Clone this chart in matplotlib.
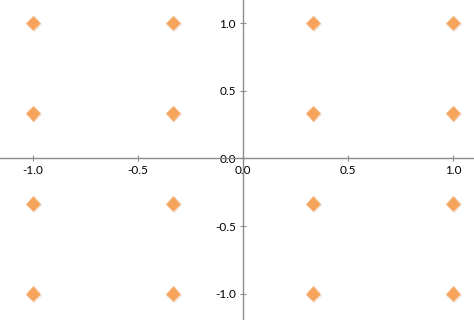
import matplotlib
matplotlib.use("Agg")
import matplotlib.pyplot as plt
import matplotlib.patheffects as pe

# grid of points
x_vals = [-1.0, -0.333, 0.333, 1.0]
y_vals = [1.0, 0.333, -0.333, -1.0]
xs = [x for y in y_vals for x in x_vals]
ys = [y for y in y_vals for x in x_vals]

tick_vals = [-1.0, -0.5, 0.0, 0.5, 1.0]
tick_labels = ["-1.0", "-0.5", "0.0", "0.5", "1.0"]

plt.rcParams["font.family"] = ["Lato", "DejaVu Sans"]

fig = plt.figure(figsize=(4.74, 3.2), dpi=100)
ax = fig.add_axes([0, 0, 1, 1])

ax.plot(xs, ys, linestyle="none", marker="D", markersize=7.5,
        markerfacecolor="#F6A45C", markeredgecolor="#F9B77A", markeredgewidth=0.6,
        path_effects=[pe.SimpleLineShadow(offset=(0.5, -0.5), shadow_color="#c8c8c8", alpha=0.5),
                      pe.Normal()])

ax.set_xlim(-1.157, 1.1)
ax.set_ylim(-1.193, 1.17)

for side in ("top", "right"):
    ax.spines[side].set_visible(False)
for side in ("left", "bottom"):
    ax.spines[side].set_position(("data", 0))
    ax.spines[side].set_color("#8c8c8c")
    ax.spines[side].set_linewidth(1.0)

ax.set_xticks(tick_vals)
ax.set_xticklabels(tick_labels)
ax.set_yticks(tick_vals)
ax.set_yticklabels(tick_labels)
ax.tick_params(axis="both", direction="inout", length=4, width=0.8, color="#8c8c8c",
               labelsize=8.5, labelcolor="#000000", pad=3)

fig.savefig("out.png", dpi=100)
